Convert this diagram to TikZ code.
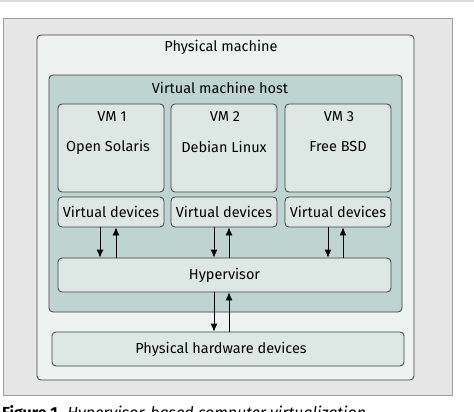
\documentclass[tikz,border=0pt]{standalone}
\usepackage{fontspec}
\setmainfont{Fira Sans}
\usetikzlibrary{arrows.meta}
\definecolor{panelgray}{HTML}{E6E6E6}
\definecolor{pmfill}{HTML}{EEF2F1}
\definecolor{hostfill}{HTML}{BDD4D0}
\definecolor{boxfill}{HTML}{DDE8E5}
\begin{document}
\begin{tikzpicture}[x=1pt,y=-1pt]
 	\tikzstyle{every node}+=[inner sep=0pt, font=\fontsize{14.5}{16}\selectfont]
 	\tikzset{box/.style={draw=black!75, line width=0.8pt, rounded corners=4pt, fill=boxfill},
 	  flow/.style={line width=0.8pt, -{Latex[length=8pt,width=7pt]}}}
 	\useasboundingbox (0,0) rectangle (474,412);
 	\clip (0,0) rectangle (474,412);
 	\fill [white] (0,0) rectangle (474,412);
 	\fill [black!14] (0,0) rectangle (474,2.5);
 	\draw [draw=black!38, fill=panelgray, line width=0.8pt] (3,18) rectangle (452,395);
 	% outer boxes
 	\node [box, fill=pmfill, minimum width=377pt, minimum height=345pt] (pm) at (225.5,207.5) {};
 	\node (pmtitle) at (221,47) {Physical machine};
 	\node [box, fill=hostfill, minimum width=353pt, minimum height=237pt] (host) at (225.5,193.5) {};
 	\node (hosttitle) at (220,88) {Virtual machine host};
 	% guests
 	\node [box, minimum width=106pt, minimum height=88pt] (vm1) at (111,148) {};
 	\node [box, minimum width=106pt, minimum height=88pt] (vm2) at (224,148) {};
 	\node [box, minimum width=106pt, minimum height=88pt] (vm3) at (338,148) {};
 	\node (vm1name) at (112,117) {VM 1};
 	\node (vm2name) at (225,117) {VM 2};
 	\node (vm3name) at (339,117) {VM 3};
 	\node (os1) at (108,147) {Open Solaris};
 	\node (os2) at (224,147) {Debian Linux};
 	\node (os3) at (338,147) {Free BSD};
 	\node [box, minimum width=106pt, minimum height=30pt] (vd1) at (111,212) {Virtual devices};
 	\node [box, minimum width=106pt, minimum height=30pt] (vd2) at (224,212) {Virtual devices};
 	\node [box, minimum width=106pt, minimum height=30pt] (vd3) at (338,212) {Virtual devices};
 	\node [box, minimum width=333pt, minimum height=34pt] (hyp) at (224.5,275) {Hypervisor};
 	\node [box, minimum width=352pt, minimum height=34pt] (phd) at (228,349) {};
 	\node (phdname) at (221,349) {Physical hardware devices};
 	% connectors
 	\draw [flow] ([xshift=-11pt]vd1.south) -- ([xshift=-11pt]vd1.south |- hyp.north);
 	\draw [flow] ([xshift=5pt]vd1.south |- hyp.north) -- ([xshift=5pt]vd1.south);
 	\draw [flow] ([xshift=-10pt]vd2.south) -- ([xshift=-10pt]vd2.south |- hyp.north);
 	\draw [flow] ([xshift=5pt]vd2.south |- hyp.north) -- ([xshift=5pt]vd2.south);
 	\draw [flow] ([xshift=-10pt]vd3.south) -- ([xshift=-10pt]vd3.south |- hyp.north);
 	\draw [flow] ([xshift=5pt]vd3.south |- hyp.north) -- ([xshift=5pt]vd3.south);
 	\draw [flow] ([xshift=-10.5pt]hyp.south) -- ([xshift=-10.5pt]hyp.south |- phd.north);
 	\draw [flow] ([xshift=4.5pt]hyp.south |- phd.north) -- ([xshift=4.5pt]hyp.south);
 	% caption, cut by the page edge as in the source
 	\node [anchor=north west, font=\fontsize{16}{18}\selectfont] (caption) at (2,405)
 	  {\textbf{Figure 1.} \textit{Hypervisor-based computer virtualization.}};
\end{tikzpicture}
\end{document}
